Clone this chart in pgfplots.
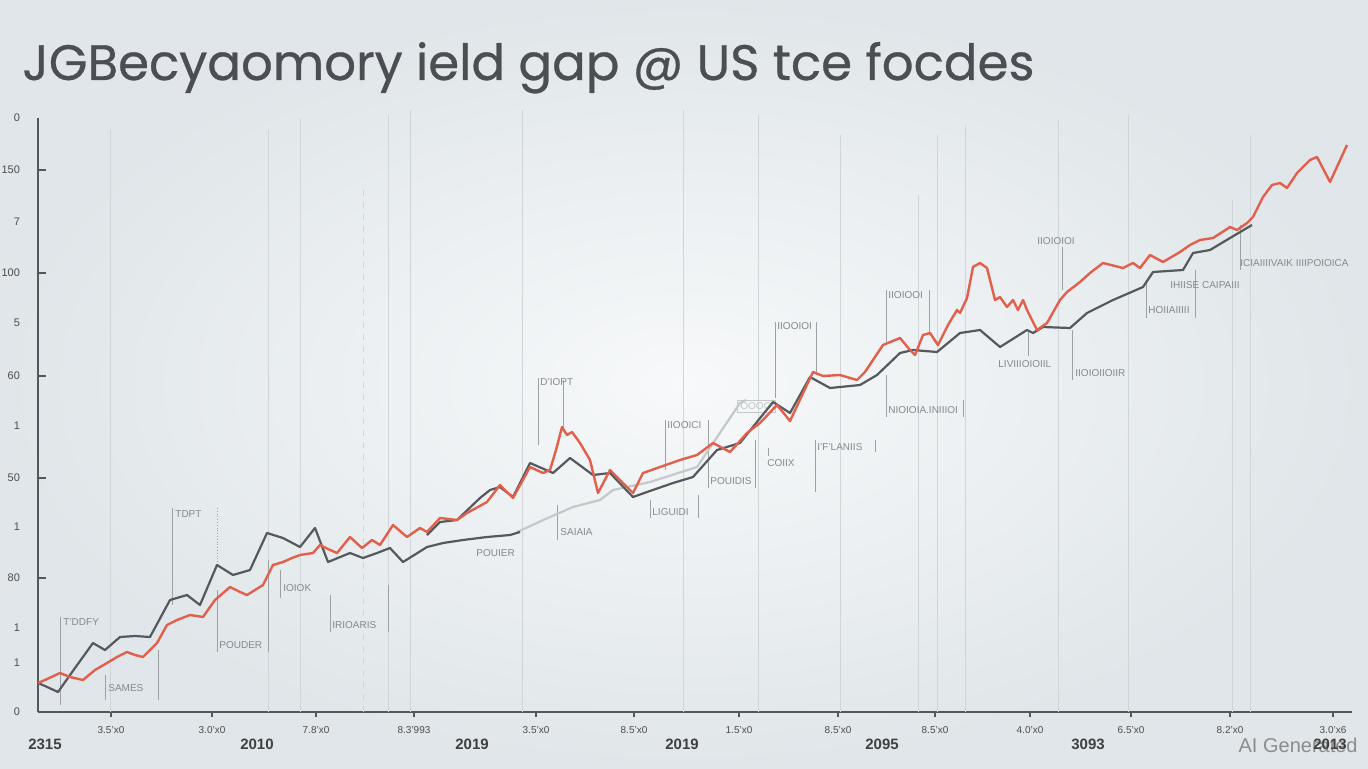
\documentclass[border=0pt]{standalone}
\usepackage{fontspec}
\setmainfont{Liberation Sans}
\newfontfamily\titlefont[FakeBold=0.6]{Poppins}
\usepackage{pgfplots}
\pgfplotsset{compat=1.18}
\definecolor{bgin}{HTML}{F7F9FA}
\definecolor{bgout}{HTML}{E0E6E9}
\definecolor{redl}{HTML}{E2604B}
\definecolor{darkl}{HTML}{55595D}
\definecolor{lightl}{HTML}{C4C8CA}
\definecolor{gridc}{HTML}{D0D5D8}
\definecolor{annc}{HTML}{85898D}
\definecolor{titc}{HTML}{4B4E52}
\definecolor{axc}{HTML}{55585B}
\newcommand{\gl}[2]{\draw[gridc,line width=0.5pt] (axis cs:#1,{712-#2}) -- (axis cs:#1,0);}
\newcommand{\vl}[3]{\draw[annc!80,line width=0.4pt] (axis cs:#1,{712-#2}) -- (axis cs:#1,{712-#3});}
\newcommand{\ann}[3]{\node[anchor=west,inner sep=0pt,font=\fontsize{5}{5}\selectfont,text=annc] at (axis cs:#1,{712-#2}) {#3};}
\begin{document}
\begin{tikzpicture}[x=1pt,y=1pt]
\useasboundingbox (0,0) rectangle (684,384);
\shade[inner color=bgin,outer color=bgout] (0,0) rectangle (684,384);
\node[anchor=base west,text=titc,inner sep=0pt] at (11,344) {\resizebox{506pt}{!}{\titlefont JGBecyaomory ield gap @ US tce focdes}};
\node[anchor=east,inner sep=0pt,text=black!45,font=\fontsize{10}{10}\selectfont] at (679,11.5) {AI Generated};
\begin{axis}[
  at={(19pt,28pt)}, anchor=south west, scale only axis,
  width=657pt, height=297pt,
  xmin=38, xmax=1352, ymin=0, ymax=594,
  axis x line=bottom, axis y line=left,
  axis line style={-, draw=axc, line width=1pt},
  clip=false,
  y filter/.expression={712-y},
  ytick={594,542,490,439,389,336,286,234,185,134,84,49,0},
  yticklabels={0,150,7,100,5,60,1,50,1,80,1,1,0},
  ytick style={draw=none},
  yticklabel style={font=\fontsize{5.5}{6}\selectfont, text=black!70, xshift=-3pt},
  extra y ticks={542,439,336,234,134},
  extra y tick labels={},
  extra y tick style={ytick style={draw=axc, line width=0.8pt}, major tick length=4pt, tick align=inside},
  xtick={111,212,316,414,536,634,739,838,935,1030,1131,1230,1333},
  xticklabels={3.5'x0,3.0'x0,7.8'x0,8.3'993,3.5'x0,8.5'x0,1.5'x0,8.5'x0,8.5'x0,4.0'x0,6.5'x0,8.2'x0,3.0'x6},
  xtick style={draw=axc, line width=0.6pt},
  tick align=outside, major tick length=2.5pt,
  xticklabel style={font=\fontsize{5}{5}\selectfont, text=black!70, yshift=-1pt},
  extra x ticks={45,257,472,682,882,1088,1330},
  extra x tick labels={2315,2010,2019,2019,2095,3093,2013},
  extra x tick style={major tick length=0pt, xticklabel style={font=\fontsize{7.5}{7.5}\selectfont\bfseries, text=black!75, yshift=-9pt}},
]
% vertical grid lines
\gl{110}{130}\gl{268}{130}\gl{300}{118}\gl{388}{115}\gl{410}{110}\gl{522}{110}
\gl{683}{110}\gl{758}{115}\gl{840}{135}\gl{918}{195}\gl{937}{135}\gl{965}{125}
\gl{1058}{120}\gl{1128}{115}\gl{1250}{135}\gl{1232}{200}
\draw[gridc,line width=0.5pt,dashed] (axis cs:363,{712-190}) -- (axis cs:363,0);
% annotation brackets
\vl{60}{617}{705}\ann{63}{622}{T'DDFY}
\vl{105}{675}{700}\vl{158}{650}{700}\ann{108}{688}{SAMES}
\vl{172}{508}{605}\draw[annc!80,line width=0.4pt,densely dotted] (axis cs:217,{712-508}) -- (axis cs:217,{712-565});\ann{175}{514}{TDPT}
\vl{217}{590}{652}\vl{268}{560}{652}\ann{219}{645}{POUDER}
\vl{280}{570}{598}\ann{283}{588}{IOIOK}
\vl{330}{595}{632}\vl{388}{585}{632}\ann{332}{625}{IRIOARIS}
\ann{476}{553}{POUIER}
\vl{557}{505}{540}\ann{560}{532}{SAIAIA}
\vl{538}{378}{445}\vl{563}{380}{430}\ann{540}{382}{D'IOPT}
\vl{665}{420}{470}\vl{708}{420}{472}\ann{667}{425}{IIOOICI}
\vl{650}{500}{518}\vl{698}{495}{518}\ann{652}{512}{LIGUIDI}
\vl{708}{470}{488}\vl{755}{440}{488}\ann{710}{481}{POUIDIS}
\draw[lightl,line width=0.5pt] (axis cs:737,{712-400}) rectangle (axis cs:775,{712-412});\node[anchor=west,inner sep=0pt,font=\fontsize{5}{5}\selectfont,text=lightl] at (axis cs:740,{712-406}) {OOOOI};
\vl{768}{448}{456}\ann{767}{463}{COIIX}
\vl{775}{322}{398}\vl{816}{322}{372}\ann{777}{326}{IIOOIOI}
\vl{815}{440}{492}\vl{875}{440}{452}\ann{817}{447}{I'F'LANIIS}
\vl{886}{290}{342}\vl{929}{290}{332}\ann{888}{295}{IIOIOOI}
\vl{886}{375}{417}\vl{963}{400}{417}\ann{888}{410}{NIOIOIA.INIIIOI}
\vl{1062}{247}{290}\ann{1037}{241}{IIOIOIOI}
\vl{1028}{330}{356}\ann{998}{364}{LIVIIIOIOIIL}
\vl{1072}{330}{380}\ann{1075}{373}{IIOIOIIOIIR}
\vl{1195}{270}{318}\ann{1170}{285}{IHIISE CAIPAIII}
\vl{1146}{280}{318}\ann{1148}{310}{HOIIAIIIII}
\vl{1240}{225}{270}\ann{1240}{263}{ICIAIIIIVAIK IIIIPOIOICA}
% light gray series
\addplot[lightl, line width=1.1pt, line join=round] coordinates {
(517,532)(550,517)(573,507)(600,500)(613,490)(650,482)(697,467)(740,403)(746,400)};
% dark series, left
\addplot[darkl, line width=1.1pt, line join=round] coordinates {
(38,683)(45,686)(58,692)(75,668)(93,643)(105,650)(120,637)(135,636)(150,637)(170,600)(187,595)(200,605)(217,565)(233,575)(250,570)(267,533)(283,538)(300,547)(315,528)(328,562)(350,553)(363,558)(377,553)(390,548)(403,562)(427,547)(443,543)(463,540)(487,537)(510,535)(520,532)};
% dark series, right
\addplot[darkl, line width=1.1pt, line join=round] coordinates {
(427,535)(440,522)(457,520)(480,498)(490,490)(500,487)(513,497)(530,463)(553,473)(570,458)(593,475)(610,473)(633,497)(647,492)(673,483)(693,477)(717,450)(740,443)(773,402)(790,413)(810,377)(830,388)(860,385)(877,375)(900,353)(913,350)(937,352)(960,333)(980,330)(1000,347)(1027,330)(1033,333)(1043,327)(1070,328)(1087,313)(1113,300)(1143,287)(1153,272)(1183,270)(1193,253)(1210,250)(1230,238)(1252,225)};
% red series
\addplot[redl, line width=1.2pt, line join=round] coordinates {
(38,683)(45,680)(60,673)(70,677)(83,680)(95,670)(107,663)(117,657)(127,652)(135,655)(143,657)(150,650)(157,643)(167,625)(177,620)(190,615)(203,617)(215,600)(230,587)(240,592)(247,595)(255,590)(263,585)(273,565)(283,562)(292,558)(300,555)(313,553)(320,545)(328,549)(337,553)(350,537)(362,548)(372,540)(380,545)(393,525)(407,537)(420,528)(427,532)(440,518)(457,520)(467,513)(487,502)(500,485)(513,498)(530,467)(543,473)(550,470)(556,450)(562,427)(567,435)(572,432)(580,443)(590,460)(598,493)(610,470)(623,483)(633,493)(643,473)(660,467)(680,460)(697,455)(713,443)(730,452)(747,433)(760,423)(777,405)(790,421)(813,372)(823,376)(840,375)(857,380)(865,372)(873,360)(883,345)(900,338)(910,350)(915,355)(923,335)(930,333)(938,345)(948,325)(957,310)(960,313)(967,298)(973,267)(980,263)(987,268)(995,300)(1000,297)(1007,307)(1013,300)(1018,310)(1023,300)(1027,310)(1037,330)(1047,323)(1060,300)(1067,292)(1080,282)(1090,273)(1103,263)(1123,268)(1133,263)(1140,268)(1150,255)(1163,262)(1180,252)(1190,245)(1200,240)(1213,238)(1230,227)(1237,230)(1247,223)(1253,217)(1263,197)(1272,185)(1280,183)(1287,188)(1297,173)(1310,160)(1317,157)(1330,182)(1347,145)};
\end{axis}
\end{tikzpicture}
\end{document}
